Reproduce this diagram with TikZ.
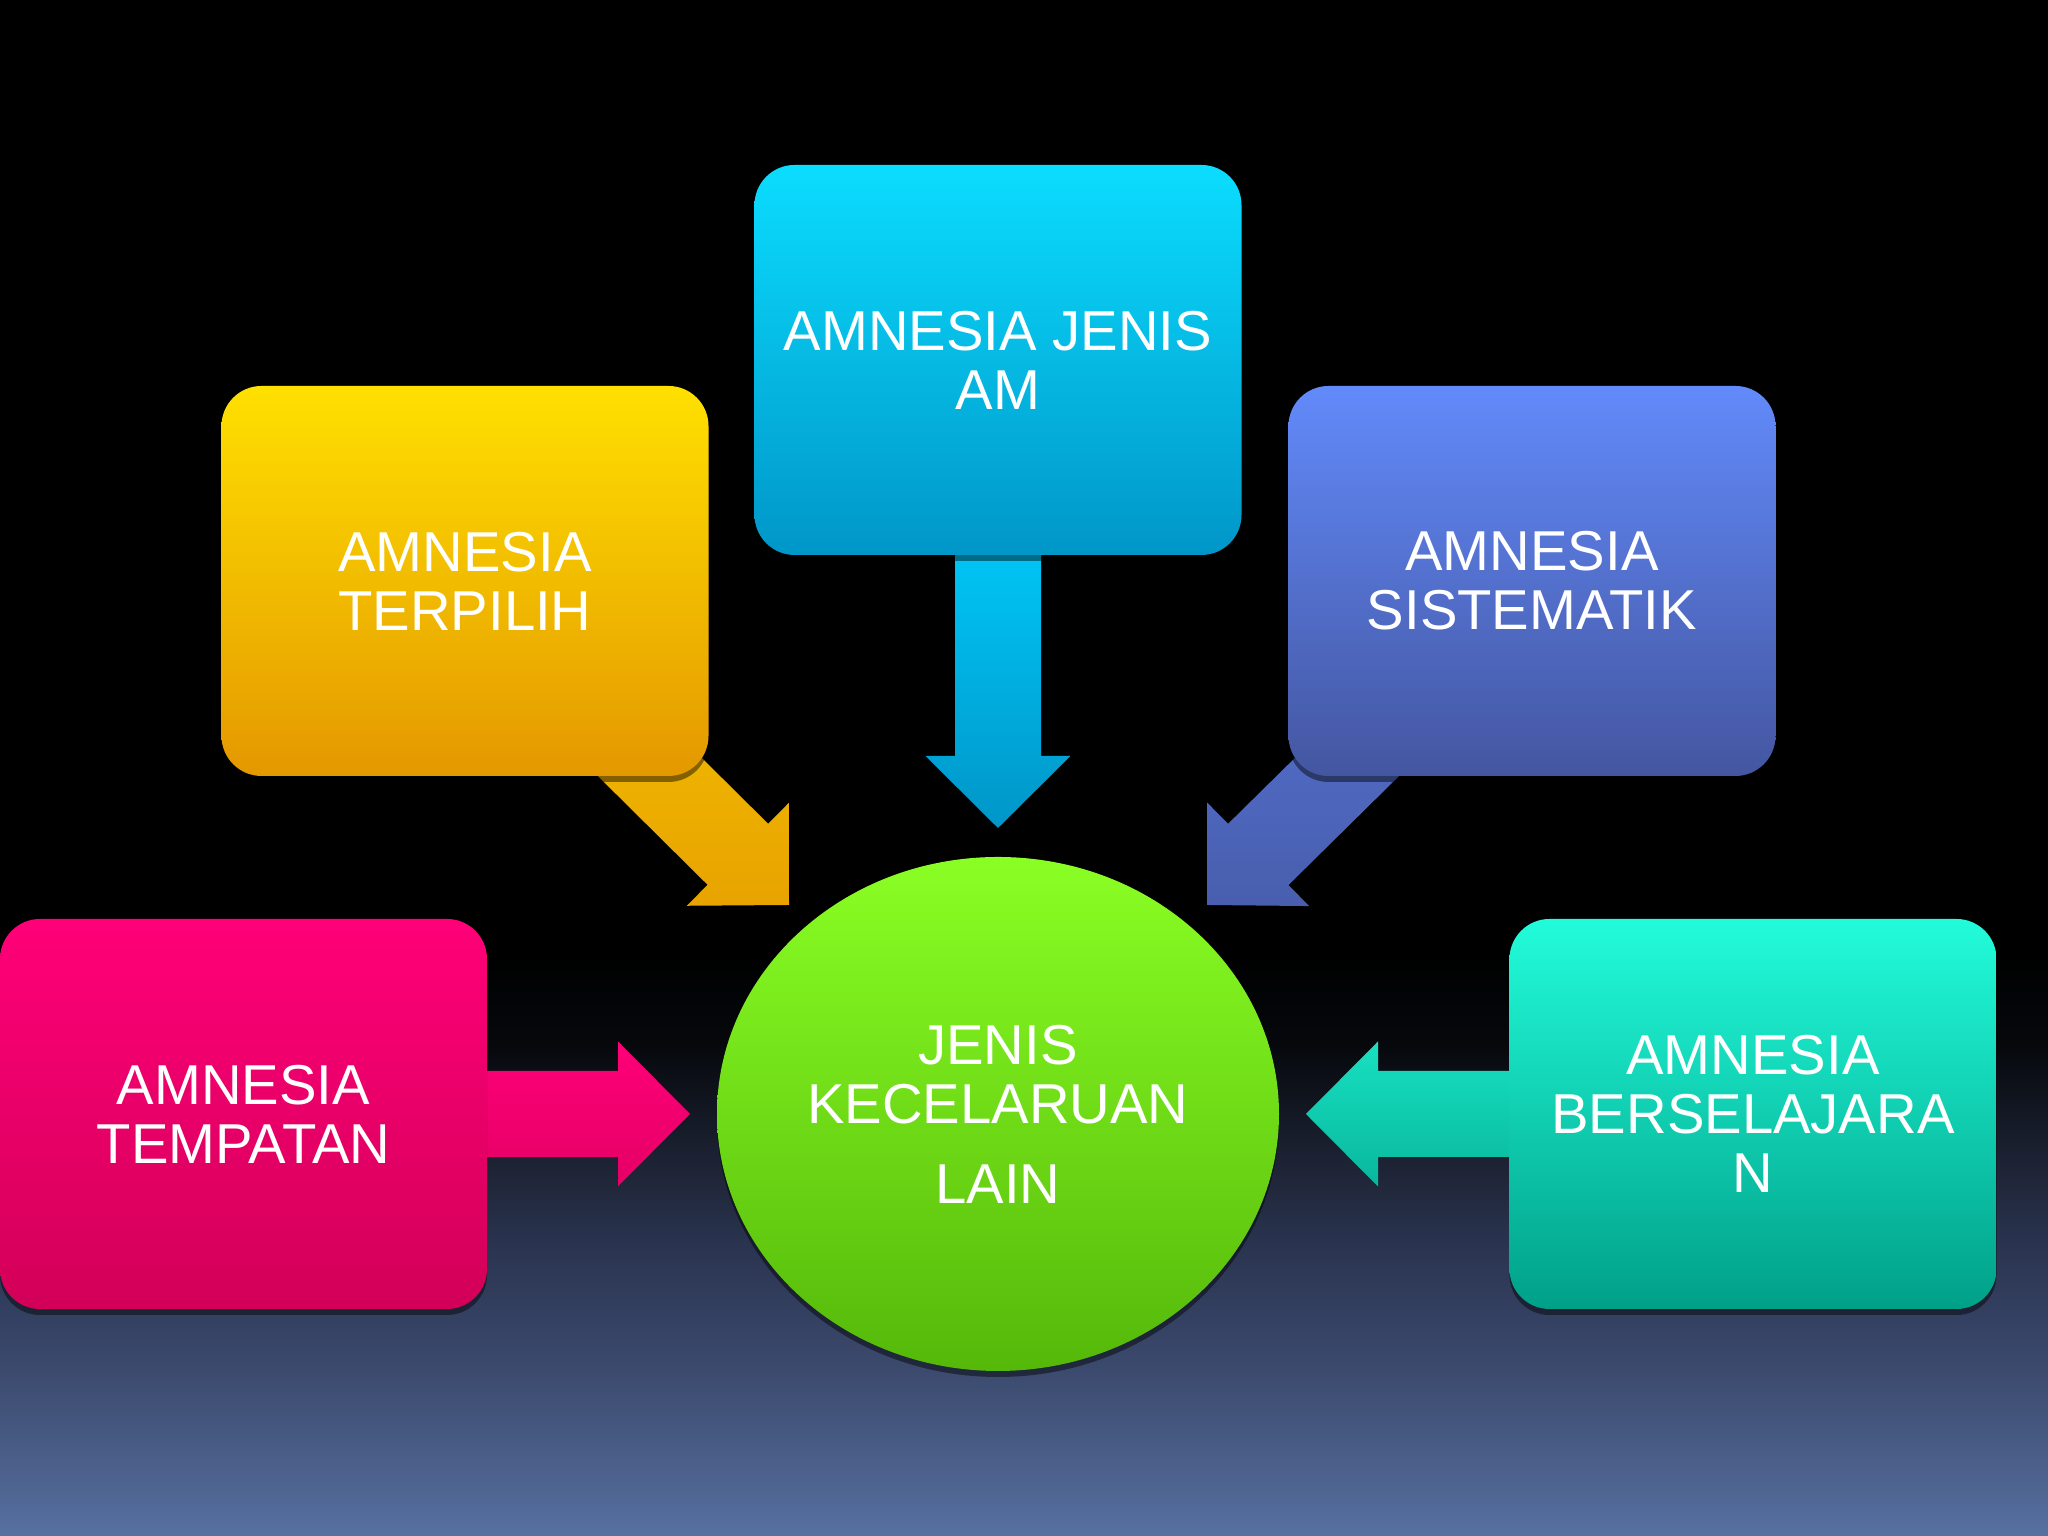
\documentclass[tikz,border=0pt]{standalone}
\usepackage{fontspec}
\setmainfont{Liberation Sans}
\usetikzlibrary{arrows.meta,positioning,shapes.geometric,calc,shadows}
\usepackage{xcolor}
\definecolor{bgA}{HTML}{5670A0}
\definecolor{bgB}{HTML}{3C4A6E}
\definecolor{bgC}{HTML}{2A3450}
\definecolor{bgD}{HTML}{1C2232}
\definecolor{bgE}{HTML}{06080C}
\definecolor{cyantop}{HTML}{0BDDFF}
\definecolor{cyanbot}{HTML}{0096C8}
\definecolor{cyanarr}{HTML}{00C4F4}
\definecolor{yeltop}{HTML}{FFE000}
\definecolor{yelbot}{HTML}{E49800}
\definecolor{bluetop}{HTML}{628AFA}
\definecolor{bluebot}{HTML}{4456A0}
\definecolor{pinktop}{HTML}{FF0078}
\definecolor{pinkbot}{HTML}{D20058}
\definecolor{tealtop}{HTML}{22FCDA}
\definecolor{tealbot}{HTML}{00A088}
\definecolor{greentop}{HTML}{8AFF24}
\definecolor{greenbot}{HTML}{55B80A}
\pgfdeclareverticalshading{slidebg}{100bp}{color(0bp)=(bgA); color(25bp)=(bgA); color(30.4bp)=(bgB); color(34.5bp)=(bgC); color(37.3bp)=(bgD); color(41bp)=(bgE); color(44bp)=(black); color(100bp)=(black)}
\pgfdeclarelayer{bg}
\pgfdeclarelayer{arr}
\pgfsetlayers{bg,arr,main}
\tikzset{
  box/.style={rounded corners=4mm, align=center, text=white, minimum width=4.87cm, minimum height=3.9cm, inner sep=2mm, outer sep=0pt, font=\fontsize{16}{16.8}\selectfont, drop shadow={shadow xshift=0pt, shadow yshift=-0.6mm, fill=black, opacity=0.45}},
  cyanbox/.style={box, top color=cyantop, bottom color=cyanbot},
  yellowbox/.style={box, top color=yeltop, bottom color=yelbot},
  bluebox/.style={box, top color=bluetop, bottom color=bluebot},
  pinkbox/.style={box, top color=pinktop, bottom color=pinkbot},
  tealbox/.style={box, top color=tealtop, bottom color=tealbot},
  greencircle/.style={ellipse, align=center, text=white, minimum width=5.62cm, minimum height=5.14cm, inner sep=0pt, outer sep=0pt, font=\fontsize{16}{16.8}\selectfont, top color=greentop, bottom color=greenbot, drop shadow={shadow xshift=0pt, shadow yshift=-0.6mm, fill=black, opacity=0.45}},
  tipgap/.store in=\tipgap, tipgap=0mm,
  % block arrow: shaft 8.6mm wide, head 14.5mm wide and 7.2mm long
  blockarrow/.style={to path={
    ($(\tikztostart)!4.3mm!90:(\tikztotarget)$)
    -- ($(\tikztotarget)!\tipgap+7.2mm!(\tikztostart)!4.3mm!90:(\tikztotarget)$)
    -- ($(\tikztotarget)!\tipgap+7.2mm!(\tikztostart)!7.25mm!90:(\tikztotarget)$)
    -- ($(\tikztotarget)!\tipgap!(\tikztostart)$)
    -- ($(\tikztotarget)!\tipgap+7.2mm!(\tikztostart)!7.25mm!-90:(\tikztotarget)$)
    -- ($(\tikztotarget)!\tipgap+7.2mm!(\tikztostart)!4.3mm!-90:(\tikztotarget)$)
    -- ($(\tikztostart)!4.3mm!-90:(\tikztotarget)$) -- cycle}}
}

\begin{document}
\begin{tikzpicture}
  \useasboundingbox (0,0) rectangle (20.48,15.36);
  \begin{pgfonlayer}{bg}
    \shade[shading=slidebg] (0,0) rectangle (20.48,15.36);
  \end{pgfonlayer}
  \node[greencircle] (jenis) at (9.98,4.22) {JENIS\\KECELARUAN\\[6pt]LAIN};
  \node[cyanbox] (jenisam) at (9.98,11.76) {AMNESIA JENIS\\AM};
  \node[yellowbox] (terpilih) at (4.65,9.55) {AMNESIA\\TERPILIH};
  \node[bluebox] (sistematik) at (15.32,9.55) {AMNESIA\\SISTEMATIK};
  \node[pinkbox] (tempatan) at (2.435,4.22) {AMNESIA\\TEMPATAN};
  \node[tealbox] (berselajaran) at (17.53,4.22) {AMNESIA\\BERSELAJARA\\N};
  \coordinate (yelfoot) at ($(terpilih.south east)+(-0.95,0.45)$);
  \coordinate (bluefoot) at ($(sistematik.south west)+(0.95,0.45)$);
  \coordinate (tipl) at ($(jenis.center)+(-2.09,2.09)$);
  \coordinate (tipr) at ($(jenis.center)+(2.09,2.09)$);
  \begin{pgfonlayer}{arr}
    \shade[blockarrow, tipgap=2.9mm, top color=cyanarr, bottom color=cyanbot] (jenisam.south) to (jenis.north);
    \shade[blockarrow, tipgap=2.7mm, top color=pinktop, bottom color=pinkbot!60!pinktop] (tempatan.east) to (jenis.west);
    \shade[blockarrow, tipgap=2.7mm, top color=tealtop!70!tealbot, bottom color=tealbot!75!tealtop] (berselajaran.west) to (jenis.east);
    \shade[blockarrow, top color=yeltop!45!yelbot, bottom color=yelbot!85!yeltop] (yelfoot) to (tipl);
    \shade[blockarrow, top color=bluetop!45!bluebot, bottom color=bluebot!85!bluetop] (bluefoot) to (tipr);
  \end{pgfonlayer}
\end{tikzpicture}
\end{document}
